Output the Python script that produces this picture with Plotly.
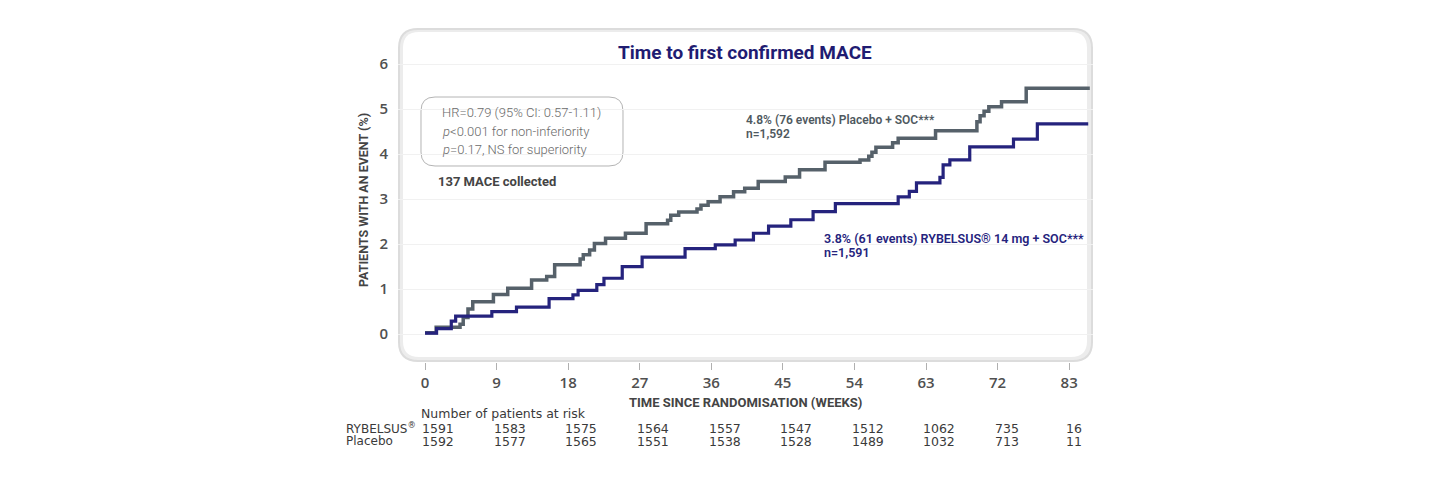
import plotly.graph_objects as go

# ---------------- data ----------------
placebo_weeks = [0, 1.4, 4.4, 4.8, 5.4, 6.0, 8.6, 10.4, 13.4, 15.3, 16.3, 19.5, 19.9, 20.7, 21.3,
                 22.7, 25.2, 27.8, 30.5, 30.9, 31.9, 34.2, 34.7, 35.6, 37.1, 38.8, 40.2, 41.9, 45.3,
                 47.1, 50.3, 54.7, 55.8, 56.2, 56.7, 58.8, 59.5, 64.2, 69.4, 69.8, 70.3, 70.9, 72.5,
                 75.6, 83.6]
placebo_pct = [0.03, 0.15, 0.22, 0.37, 0.56, 0.72, 0.88, 1.02, 1.20, 1.28, 1.54, 1.67, 1.76, 1.87, 2.01,
               2.13, 2.24, 2.45, 2.53, 2.64, 2.71, 2.78, 2.86, 2.94, 3.05, 3.16, 3.24, 3.39, 3.49,
               3.65, 3.82, 3.87, 3.95, 4.04, 4.15, 4.25, 4.35, 4.52, 4.72, 4.85, 4.95, 5.05, 5.16,
               5.46, 5.46]

rybelsus_weeks = [0, 1.45, 3.3, 3.85, 8.4, 11.5, 15.6, 18.6, 19.25, 21.6, 22.5, 24.8, 27.3, 32.7,
                  36.5, 39.0, 41.3, 43.2, 46.0, 48.8, 51.6, 59.5, 60.9, 61.8, 64.75, 65.15, 66.0,
                  68.5, 74.0, 77.0, 83.4]
rybelsus_pct = [0.02, 0.12, 0.29, 0.40, 0.50, 0.60, 0.79, 0.87, 0.97, 1.10, 1.24, 1.50, 1.71, 1.90,
                1.98, 2.09, 2.24, 2.40, 2.54, 2.72, 2.90, 3.05, 3.17, 3.36, 3.48, 3.76, 3.87,
                4.16, 4.33, 4.67, 4.67]

tick_positions = [0, 9, 18, 27, 36, 45, 54, 63, 72, 81]
tick_labels = ["0", "9", "18", "27", "36", "45", "54", "63", "72", "83"]
y_ticks = [0, 1, 2, 3, 4, 5, 6]

rybelsus_at_risk = ["1591", "1583", "1575", "1564", "1557", "1547", "1512", "1062", "735", "16"]
placebo_at_risk = ["1592", "1577", "1565", "1551", "1538", "1528", "1489", "1032", "713", "11"]

# ---------------- layout geometry (pixels) ----------------
W, H = 1440, 480
PL, PR, PT, PB = 398, 1093, 28, 362   # plot-area edges
X_RANGE = [-3.4, 84.0]
Y_RANGE = [-0.62, 6.8]


def px(X):
    return (X - PL) / (PR - PL)


def py(Y):
    return (PB - Y) / (PB - PT)


def rounded_path(x0, y0, x1, y1, r):
    """rounded rectangle in pixel coords -> path in paper coords"""
    pts = [
        ("M", x0 + r, y0), ("L", x1 - r, y0), ("Q", x1, y0, x1, y0 + r),
        ("L", x1, y1 - r), ("Q", x1, y1, x1 - r, y1), ("L", x0 + r, y1),
        ("Q", x0, y1, x0, y1 - r), ("L", x0, y0 + r), ("Q", x0, y0, x0 + r, y0),
    ]
    out = []
    for p in pts:
        if p[0] == "Q":
            out.append(f"Q {px(p[1]):.5f},{py(p[2]):.5f} {px(p[3]):.5f},{py(p[4]):.5f}")
        else:
            out.append(f"{p[0]} {px(p[1]):.5f},{py(p[2]):.5f}")
    return " ".join(out) + " Z"


GRAY = "#56616a"
NAVY = "#25237d"

fig = go.Figure()
fig.add_trace(go.Scatter(x=placebo_weeks, y=placebo_pct, mode="lines", line_shape="hv",
                         line=dict(color=GRAY, width=3.5), hoverinfo="skip", showlegend=False))
fig.add_trace(go.Scatter(x=rybelsus_weeks, y=rybelsus_pct, mode="lines", line_shape="hv",
                         line=dict(color=NAVY, width=3.2), hoverinfo="skip", showlegend=False))

shapes = [
    dict(type="path", xref="paper", yref="paper", layer="below",
         path=rounded_path(PL, PT, PR, PB, 20), fillcolor="#dcdcdc", line=dict(width=0)),
    dict(type="path", xref="paper", yref="paper", layer="below",
         path=rounded_path(PL + 2, PT + 2, PR - 2, PB - 2, 18), fillcolor="#ececec", line=dict(width=0)),
    dict(type="path", xref="paper", yref="paper", layer="below",
         path=rounded_path(PL + 5, PT + 4, PR - 6, PB - 5, 16), fillcolor="#ffffff", line=dict(width=0)),
    dict(type="path", xref="paper", yref="paper", layer="between",
         path=rounded_path(421, 97, 623, 166, 14), fillcolor="#ffffff",
         line=dict(color="#b4b4b4", width=1)),
]

ann = []


def add_text(text, X, Y, size, color, weight=400, family="Roboto", xanchor="left", angle=0):
    ann.append(dict(text=text, x=px(X), y=py(Y), xref="paper", yref="paper", showarrow=False,
                    xanchor=xanchor, yanchor="middle", textangle=angle,
                    font=dict(family=family, size=size, color=color, weight=weight)))


add_text("Time to first confirmed MACE", 745, 53, 19, "#1f1c72", 700, xanchor="center")
add_text("HR=0.79 (95% CI: 0.57-1.11)", 440, 113, 13, "#6a6a6a", 300)
add_text("<i>p</i><0.001 for non-inferiority", 440, 131, 13, "#6a6a6a", 300)
add_text("<i>p</i>=0.17, NS for superiority", 440, 149, 13, "#6a6a6a", 300)
add_text("137 MACE collected", 436, 181, 13, "#444444", 700)
add_text("4.8% (76 events) Placebo + SOC***", 744, 120, 12, "#4f5960", 600)
add_text("n=1,592", 744, 134, 12, "#4f5960", 600)
add_text("3.8% (61 events) RYBELSUS® 14 mg + SOC***", 822, 239, 12.5, NAVY, 600)
add_text("n=1,591", 822, 253, 12.5, NAVY, 600)
add_text("TIME SINCE RANDOMISATION (WEEKS)", 745, 402, 13, "#444444", 700, xanchor="center")
add_text("PATIENTS WITH AN EVENT (%)", 363, 200, 12.5, "#444444", 700, xanchor="center", angle=-90)

# risk table
TBL = 12.5
add_text("Number of patients at risk", 419, 413, TBL, "#3a3a3a", 400, family="DejaVu Sans")
add_text("RYBELSUS<sup>®</sup>", 344, 428, 12, "#3a3a3a", 400, family="DejaVu Sans")
add_text("Placebo", 344, 441, 12, "#3a3a3a", 400, family="DejaVu Sans")
for wk, r_val, p_val in zip(tick_positions, rybelsus_at_risk, placebo_at_risk):
    for txt, yrow in ((r_val, 428), (p_val, 441)):
        ann.append(dict(text=txt, x=wk - 0.6, y=py(yrow), xref="x", yref="paper", showarrow=False,
                        xanchor="left", yanchor="middle",
                        font=dict(family="DejaVu Sans", size=TBL, color="#3a3a3a")))

fig.update_layout(
    width=W, height=H,
    margin=dict(l=PL, r=W - PR, t=PT, b=H - PB, pad=0),
    paper_bgcolor="#ffffff", plot_bgcolor="rgba(0,0,0,0)",
    shapes=shapes, annotations=ann, showlegend=False,
    xaxis=dict(range=X_RANGE, tickvals=tick_positions, ticktext=tick_labels,
               ticks="outside", ticklen=7, tickcolor="#b0b0b0", tickwidth=1,
               showgrid=False, zeroline=False, showline=False,
               tickfont=dict(family="Open Sans", size=15, color="#505050", weight=600)),
    yaxis=dict(range=Y_RANGE, tickvals=y_ticks, ticks="", showgrid=True, gridcolor="#f1f1f1",
               gridwidth=1, zeroline=False, showline=False, ticklabelstandoff=9,
               tickfont=dict(family="Open Sans", size=15, color="#505050", weight=600)),
)

fig.write_html("out.html")
